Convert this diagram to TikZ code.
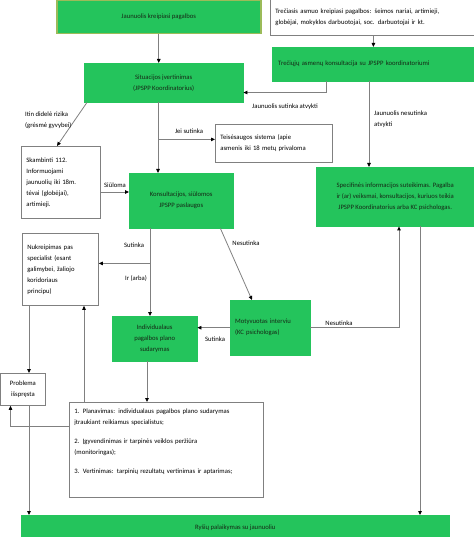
\documentclass[tikz,border=0pt]{standalone}
\usepackage{fontspec}
\setmainfont{Carlito}
\usepackage{xcolor}
\definecolor{kcgreen}{RGB}{36,196,92}
\definecolor{kcolive}{RGB}{155,187,89}
\definecolor{kcline}{RGB}{128,128,128}
\definecolor{kcdark}{RGB}{22,40,22}
\usetikzlibrary{arrows.meta,positioning,calc}
\newcommand\kcfont{\fontsize{6.7}{11}\selectfont}
\tikzset{
  gbox/.style={draw=kcgreen, fill=kcgreen, text=kcdark, font=\kcfont,
               anchor=north west, align=center, inner sep=3bp},
  wbox/.style={draw=kcline, fill=white, font=\kcfont, line width=0.8bp,
               anchor=north west, align=left, inner xsep=5bp, inner ysep=3bp},
  lbl/.style={font=\kcfont, inner sep=1bp, align=left},
  conn/.style={draw=kcline, line width=0.8bp, -{Triangle[length=4bp,width=3.5bp,color=black]}},
  line/.style={draw=kcline, line width=0.8bp},
}

\begin{document}
\begin{tikzpicture}[x=1bp, y=-1bp]
\useasboundingbox (0,0) rectangle (474,537);

% Top row
\node[gbox, draw=kcolive, line width=1.5bp, minimum width=204bp, minimum height=33bp] (seek) at (56,0) {Jaunuolis kreipiasi pagalbos};
\node[wbox, text width=196bp, minimum height=37bp] (third) at (270,-2) {Trečiasis asmuo kreipiasi pagalbos: šeimos nariai, artimieji,\\globėjai, mokyklos darbuotojai, soc. darbuotojai ir kt.};

\node[gbox, minimum width=159bp, minimum height=39bp] (assess) at (84,63) {Situacijos įvertinimas\\(JPSPP Koordinatorius)};
\node[gbox, align=left, text width=190bp, inner xsep=6bp, minimum height=34bp] (consult3) at (272,47) {Trečiųjų asmenų konsultacija su JPSPP koordinatoriumi};

% Middle row
\node[wbox, text width=107bp, minimum height=38bp] (law) at (215,124) {Teisėsaugos sistema (apie\\asmenis iki 18 metų privaloma};
\node[wbox, text width=69bp, minimum height=72bp] (call) at (21,146) {Skambinti 112.\\Informuojami\\jaunuolių iki 18m.\\tėvai (globėjai),\\artimieji.};
\node[gbox, minimum width=104bp, minimum height=55bp] (offer) at (129,173) {Konsultacijos, siūlomos\\JPSPP paslaugos};
\node[gbox, minimum width=158bp, minimum height=59bp] (info) at (316,167) {Specifinės informacijos suteikimas. Pagalba\\ir (ar) veiksmai, konsultacijos, kuriuos teikia\\JPSPP Koordinatorius arba KC psichologas.};

\node[wbox, text width=66bp, minimum height=72bp] (refer) at (22,233) {Nukreipimas pas\\specialist (esant\\galimybei, žaliojo\\koridoriaus\\principu)};
\node[gbox, minimum width=85bp, minimum height=45bp] (plan) at (112,316) {Individualaus\\pagalbos plano\\sudarymas};
\node[gbox, align=left, text width=70bp, inner xsep=5bp, minimum height=55bp] (mi) at (230,300) {Motyvuotas interviu\\(KC psichologas)};

% Bottom row
\node[wbox, align=center, text width=36bp, inner xsep=4bp, minimum height=32bp] (solved) at (0.5,373) {Problema\\išspręsta};
\node[wbox, text width=184bp, minimum height=95bp] (steps) at (69,402) {1. Planavimas: individualaus pagalbos plano sudarymas\\įtraukiant reikiamus specialistus;\\[8bp]2. Įgyvendinimas ir tarpinės veiklos peržiūra\\(monitoringas);\\[8bp]3. Vertinimas: tarpinių rezultatų vertinimas ir aptarimas;\\[6bp]~};
\node[gbox, minimum width=428bp, minimum height=26bp] (keep) at (21,515) {Ryšių palaikymas su jaunuoliu};

% Helper points on the connectors
\coordinate (c3a) at ($(consult3.south west)+(54,0)$);
\coordinate (c3b) at ($(consult3.south west)+(97,0)$);
\coordinate (asD) at ($(assess.south west)+(74,0)$);
\coordinate (brA) at ($(assess.south west)+(74,37)$);
\coordinate (ofD) at ($(offer.south west)+(21,0)$);
\coordinate (brB) at ($(offer.south west)+(21,35)$);
\coordinate (inU) at ($(info.south west)+(83,0)$);
\coordinate (inD) at ($(info.south west)+(104,0)$);
\coordinate (reD) at ($(refer.south west)+(7,0)$);
\coordinate (stU) at ($(steps.north west)+(15,0)$);
\coordinate (plD) at ($(plan.south west)+(35,0)$);
\coordinate (stL) at ($(steps.north west)+(0,24)$);
\coordinate (soU) at ($(solved.south west)+(10,0)$);
\coordinate (soD) at ($(solved.south west)+(28.5,0)$);

% Connectors
\draw[conn] (seek.south) -- (seek.south |- assess.north);
\draw[conn] (third.south) -- (third.south |- consult3.north);
\draw[conn] (c3a) |- ($(assess.south east)!0.25!(assess.north east)$);
\draw[conn] (c3b) -- (c3b |- info.north);
\draw[conn] ($(assess.south west)+(3,0)$) -- ($(call.north west)+(36,0)$);
\draw[conn] (asD) -- (asD |- offer.north);
\draw[conn] (brA) -- (brA -| law.west);
\draw[conn] ($(call.north east)+(0,46)$) -- ($(offer.north west)+(0,19)$);
\draw[conn] (ofD) -- (ofD |- plan.north);
\draw[conn] (brB) -- (brB -| refer.east);
\draw[conn] ($(offer.south east)+(-13,0)$) -- ($(mi.north west)+(22,0)$);
\draw[conn] (mi.west) -- (mi.west -| plan.east);
\draw[conn] (mi.east) -| (inU);
\draw[conn] (inD) -- (inD |- keep.north);
\draw[conn] (reD) -- (reD |- solved.north);
\draw[conn] (stU) -- (stU |- refer.south);
\draw[conn] (plD) -- (plD |- steps.north);
\draw[conn] (stL) -| (soU);
\draw[conn] (soD) -- (soD |- keep.north);

% Connector labels
\node[lbl, anchor=west] (lbSut) at (251,107) {Jaunuolis sutinka atvykti};
\node[lbl, anchor=north west] (lbNes) at (373,110) {Jaunuolis nesutinka\\atvykti};
\node[lbl, anchor=north west] (lbRisk) at (24,111) {Itin didelė rizika\\(grėsmė gyvybei)};
\node[lbl] (lbJei) at (189,131) {Jei sutinka};
\node[lbl] (lbSiu) at (115,185) {Siūloma};
\node[lbl] (lbSut2) at (134,245) {Sutinka};
\node[lbl] (lbIr) at (136,279) {Ir (arba)};
\node[lbl] (lbNes2) at (246,243) {Nesutinka};
\node[lbl] (lbSut3) at (215,339) {Sutinka};
\node[lbl] (lbNes3) at (339,323) {Nesutinka};
\end{tikzpicture}
\end{document}
